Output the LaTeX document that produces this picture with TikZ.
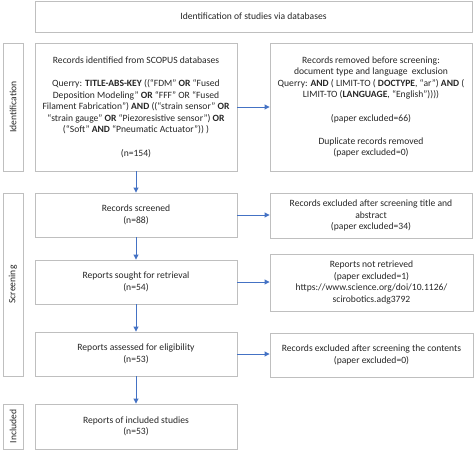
\documentclass[tikz,border=0pt]{standalone}
\usepackage{fontspec}
\setmainfont{Carlito}
\usetikzlibrary{arrows.meta}
\definecolor{boxgray}{HTML}{BFBFBF}
\definecolor{arrowblue}{HTML}{4472C4}
\definecolor{txt}{HTML}{262626}
\begin{document}
\begin{tikzpicture}[x=1pt,y=-1pt,
  box/.style={draw=boxgray,line width=0.9pt,inner sep=0pt,align=center,text=txt,
    font=\fontsize{9.6}{11.6}\selectfont},
  side/.style={box,rotate=90,minimum height=20pt},
  conn/.style={draw=arrowblue,line width=0.9pt,-{Triangle[length=5pt,width=5pt]}}]
\useasboundingbox (0,0) rectangle (474,450);
\node[box,minimum width=437pt,minimum height=31pt] (top) at (253.5,16.5) {Identification of studies via databases};
% side labels
\node[side,minimum width=128pt] (sid) at (13,107) {Identification};
\node[side,minimum width=183pt] (ssc) at (13,284.5) {Screening};
\node[side,minimum width=45pt] (sin) at (13,426.5) {Included};
% left column
\node[box,minimum width=202pt,minimum height=128pt] (ident) at (136,107) {Records identified from SCOPUS databases\\[11.6pt]
Querry: \textbf{TITLE-ABS-KEY} ((“FDM” \textbf{OR} “Fused\\
Deposition Modeling” \textbf{OR} “FFF” OR “Fused\\
Filament Fabrication”) \textbf{AND} ((“strain sensor” \textbf{OR}\\
“strain gauge” \textbf{OR} “Piezoresistive sensor”) \textbf{OR}\\
(“Soft” \textbf{AND} “Pneumatic Actuator”)) )\\[11.6pt]
(n=154)};
\node[box,minimum width=202pt,minimum height=44pt] (screen) at (136,215) {Records screened\\(n=88)};
\node[box,minimum width=202pt,minimum height=44pt] (sought) at (136,282) {Reports sought for retrieval\\(n=54)};
\node[box,minimum width=202pt,minimum height=44pt] (assess) at (136,354) {Reports assessed for eligibility\\(n=53)};
\node[box,minimum width=202pt,minimum height=45pt] (incl) at (136,426.5) {Reports of included studies\\(n=53)};
% right column
\node[box,minimum width=202pt,minimum height=128pt] (removed) at (371,107) {Records removed before screening:\\
document type and language~ exclusion\\
Querry: \textbf{AND} ( LIMIT-TO ( \textbf{DOCTYPE}, “ar”) \textbf{AND} (\\
LIMIT-TO (\textbf{LANGUAGE}, “English”))))\\[11.6pt]
(paper excluded=66)\\[11.6pt]
Duplicate records removed\\
(paper excluded=0)};
\node[box,minimum width=202pt,minimum height=45pt] (exclA) at (371,215.5) {Records excluded after screening title and\\abstract\\(paper excluded=34)};
\node[box,minimum width=203pt,minimum height=57pt] (notret) at (371.5,282.5) {Reports not retrieved\\(paper excluded=1)\\https://www.science.org/doi/10.1126/\\scirobotics.adg3792};
\node[box,minimum width=203pt,minimum height=44pt] (exclB) at (371.5,355) {Records excluded after screening the contents\\(paper excluded=0)};
% connectors
\draw[conn] (ident) -- (screen);
\draw[conn] (screen) -- (sought);
\draw[conn] (sought) -- (assess);
\draw[conn] (assess) -- (incl);
\draw[conn] (ident.east) -- (removed.west);
\draw[conn] (screen.east) -- (exclA.west |- screen.east);
\draw[conn] (sought.east) -- (notret.west |- sought.east);
\draw[conn] (assess.east) -- (exclB.west |- assess.east);
\end{tikzpicture}
\end{document}
